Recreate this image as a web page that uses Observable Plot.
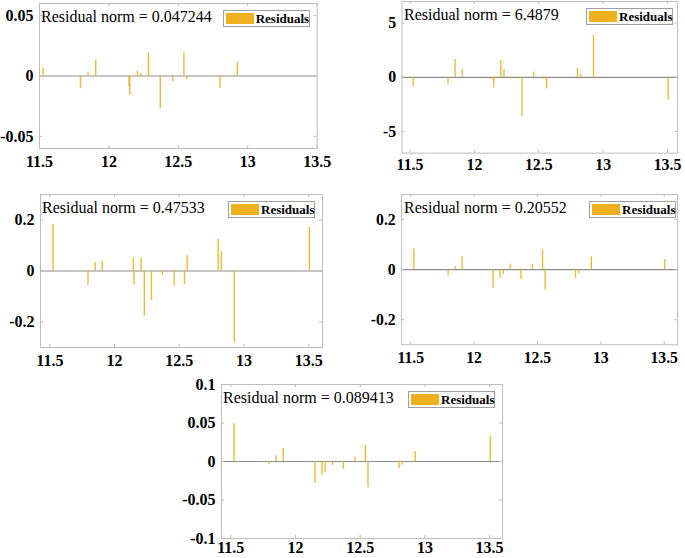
<!DOCTYPE html>
<html><head><meta charset="utf-8">
<script src="https://cdn.jsdelivr.net/npm/d3@7"></script>
<script src="https://cdn.jsdelivr.net/npm/@observablehq/plot@0.6"></script>
<style>
body{margin:0;background:#fff;}
#root{position:relative;width:685px;height:558px;overflow:hidden;font-family:"Liberation Serif","Times New Roman",serif;background:#fff;}
.panel{position:absolute;}
.panel svg, .panel svg text{font-family:"Liberation Serif","Times New Roman",serif !important;font-weight:bold;font-size:16px;}
.norm{position:absolute;font-size:16px;line-height:16px;white-space:nowrap;color:#000;}
.legend{position:absolute;border:1px solid #a0a0a0;background:#fff;box-sizing:border-box;width:87px;height:17px;}
.legend .sw{position:absolute;left:2px;top:2px;width:28px;height:11px;background:#EDB120;}
.legend .lt{position:absolute;left:32px;top:0px;font-size:13px;line-height:15px;font-weight:bold;color:#000;}
</style>
</head><body>
<div id="root"></div>
<script>
// shared x positions of the residual bars
const xVals = [11.525, 11.795, 11.85, 11.905, 12.145, 12.15, 12.205, 12.23, 12.285, 12.37, 12.46, 12.54, 12.56, 12.80, 12.825, 12.925, 13.505];
// residuals per panel
const res1 = [0.0067, -0.0105, 0.003, 0.0133, -0.009, -0.016, 0.004, 0.002, 0.019, -0.0267, -0.0045, 0.019, -0.003, -0.0103, 0, 0.0114, 0];
const res2 = [-0.83, -0.67, 1.65, 0.73, -0.3, -0.98, 1.56, 0.73, -0.15, -3.64, 0.49, -0.18, -1.07, 0.8, 0.3, 3.91, -2.11];
const res3 = [0.1825, -0.056, 0.033, 0.038, 0.051, -0.056, 0.051, -0.177, -0.116, -0.018, -0.059, -0.053, 0.06, 0.125, 0.076, -0.28, 0.171];
const res4 = [0.082, -0.025, 0.013, 0.051, 0, -0.073, -0.034, -0.02, 0.021, -0.04, 0.021, 0.078, -0.081, -0.035, -0.017, 0.051, 0.04];
const res5 = [0.049, -0.004, 0.0074, 0.017, 0, -0.0286, -0.018, -0.014, -0.005, -0.01, 0.006, 0.021, -0.034, -0.009, -0.0045, 0.013, 0.033];
const norms = ["0.047244", "6.4879", "0.47533", "0.20552", "0.089413"];
const legendLabel = "Residuals";
const xTicks = [11.5, 12, 12.5, 13, 13.5];
const xTickLabels = ["11.5", "12", "12.5", "13", "13.5"];
const yTicksA = [-0.05, 0, 0.05], yLabelsA = ["-0.05", "0", "0.05"];
const yTicksB = [-5, 0, 5], yLabelsB = ["-5", "0", "5"];
const yTicksC = [-0.2, 0, 0.2], yLabelsC = ["-0.2", "0", "0.2"];
const yTicksD = [-0.1, -0.05, 0, 0.05, 0.1], yLabelsD = ["-0.1", "-0.05", "0", "0.05", "0.1"];

const panels = [
  {res: res1, norm: norms[0], xDomain: [11.5, 13.5], yDomain: [-0.06, 0.06], yTicks: yTicksA, yLabels: yLabelsA, left: 39, top: 2.7, w: 277.7, h: 145, pad: 7},
  {res: res2, norm: norms[1], xDomain: [11.438, 13.578], yDomain: [-7, 7], yTicks: yTicksB, yLabels: yLabelsB, left: 402, top: 1, w: 278, h: 153, pad: 6},
  {res: res3, norm: norms[2], xDomain: [11.428, 13.606], yDomain: [-0.3, 0.3], yTicks: yTicksC, yLabels: yLabelsC, left: 40, top: 194, w: 282, h: 153, pad: 7},
  {res: res4, norm: norms[3], xDomain: [11.428, 13.606], yDomain: [-0.3, 0.3], yTicks: yTicksC, yLabels: yLabelsC, left: 402, top: 194, w: 281, h: 153, pad: 7},
  {res: res5, norm: norms[4], xDomain: [11.428, 13.6], yDomain: [-0.1, 0.1], yTicks: yTicksD, yLabels: yLabelsD, left: 221, top: 384, w: 281, h: 154, pad: 3}
];

const root = document.getElementById("root");
const mL = 50, mR = 8, mT = 1, mB = 24;
const frameColor = "#bdbdbd";

panels.forEach(p => {
  const data = xVals.map((x, i) => ({x, r: p.res[i]})).filter(d => d.r !== 0);
  const chart = Plot.plot({
    width: p.w + mL + mR,
    height: p.h + mT + mB,
    marginLeft: mL, marginRight: mR, marginTop: mT, marginBottom: mB,
    x: {domain: p.xDomain},
    y: {domain: p.yDomain},
    style: {fontSize: "16px", color: "#000", background: "transparent", overflow: "visible"},
    marks: [
      Plot.frame({stroke: frameColor}),
      Plot.ruleY([0], {stroke: "#8c8c8c", strokeWidth: 1.2}),
      Plot.ruleX(data, {x: "x", y1: 0, y2: "r", stroke: "#EDB120", strokeWidth: 1.4, strokeOpacity: 0.9}),
      Plot.tickX(xTicks, {x: d => d, stroke: frameColor, insetTop: p.h - 3}),
      Plot.tickX(xTicks, {x: d => d, stroke: frameColor, insetBottom: p.h - 3}),
      Plot.tickY(p.yTicks, {y: d => d, stroke: frameColor, insetRight: p.w - 3}),
      Plot.tickY(p.yTicks, {y: d => d, stroke: frameColor, insetLeft: p.w - 3}),
      Plot.axisX(xTicks, {tickSize: 0, tickPadding: p.pad, label: null, fontWeight: "bold", tickFormat: d => xTickLabels[xTicks.indexOf(d)]}),
      Plot.axisY(p.yTicks, {tickSize: 0, tickPadding: 6, label: null, fontWeight: "bold", tickFormat: d => p.yLabels[p.yTicks.indexOf(d)]})
    ]
  });
  const div = document.createElement("div");
  div.className = "panel";
  div.style.left = (p.left - mL) + "px";
  div.style.top = (p.top - mT) + "px";
  div.appendChild(chart);
  root.appendChild(div);

  const t = document.createElement("div");
  t.className = "norm";
  t.textContent = "Residual norm = " + p.norm;
  t.style.left = (p.left + 2) + "px";
  t.style.top = (p.top + 6) + "px";
  root.appendChild(t);

  const lg = document.createElement("div");
  lg.className = "legend";
  lg.style.left = (p.left + p.w - 7 - 87) + "px";
  lg.style.top = (p.top + 7) + "px";
  lg.innerHTML = '<div class="sw"></div><div class="lt"></div>';
  lg.querySelector(".lt").textContent = legendLabel;
  root.appendChild(lg);
});
</script>
</body></html>
